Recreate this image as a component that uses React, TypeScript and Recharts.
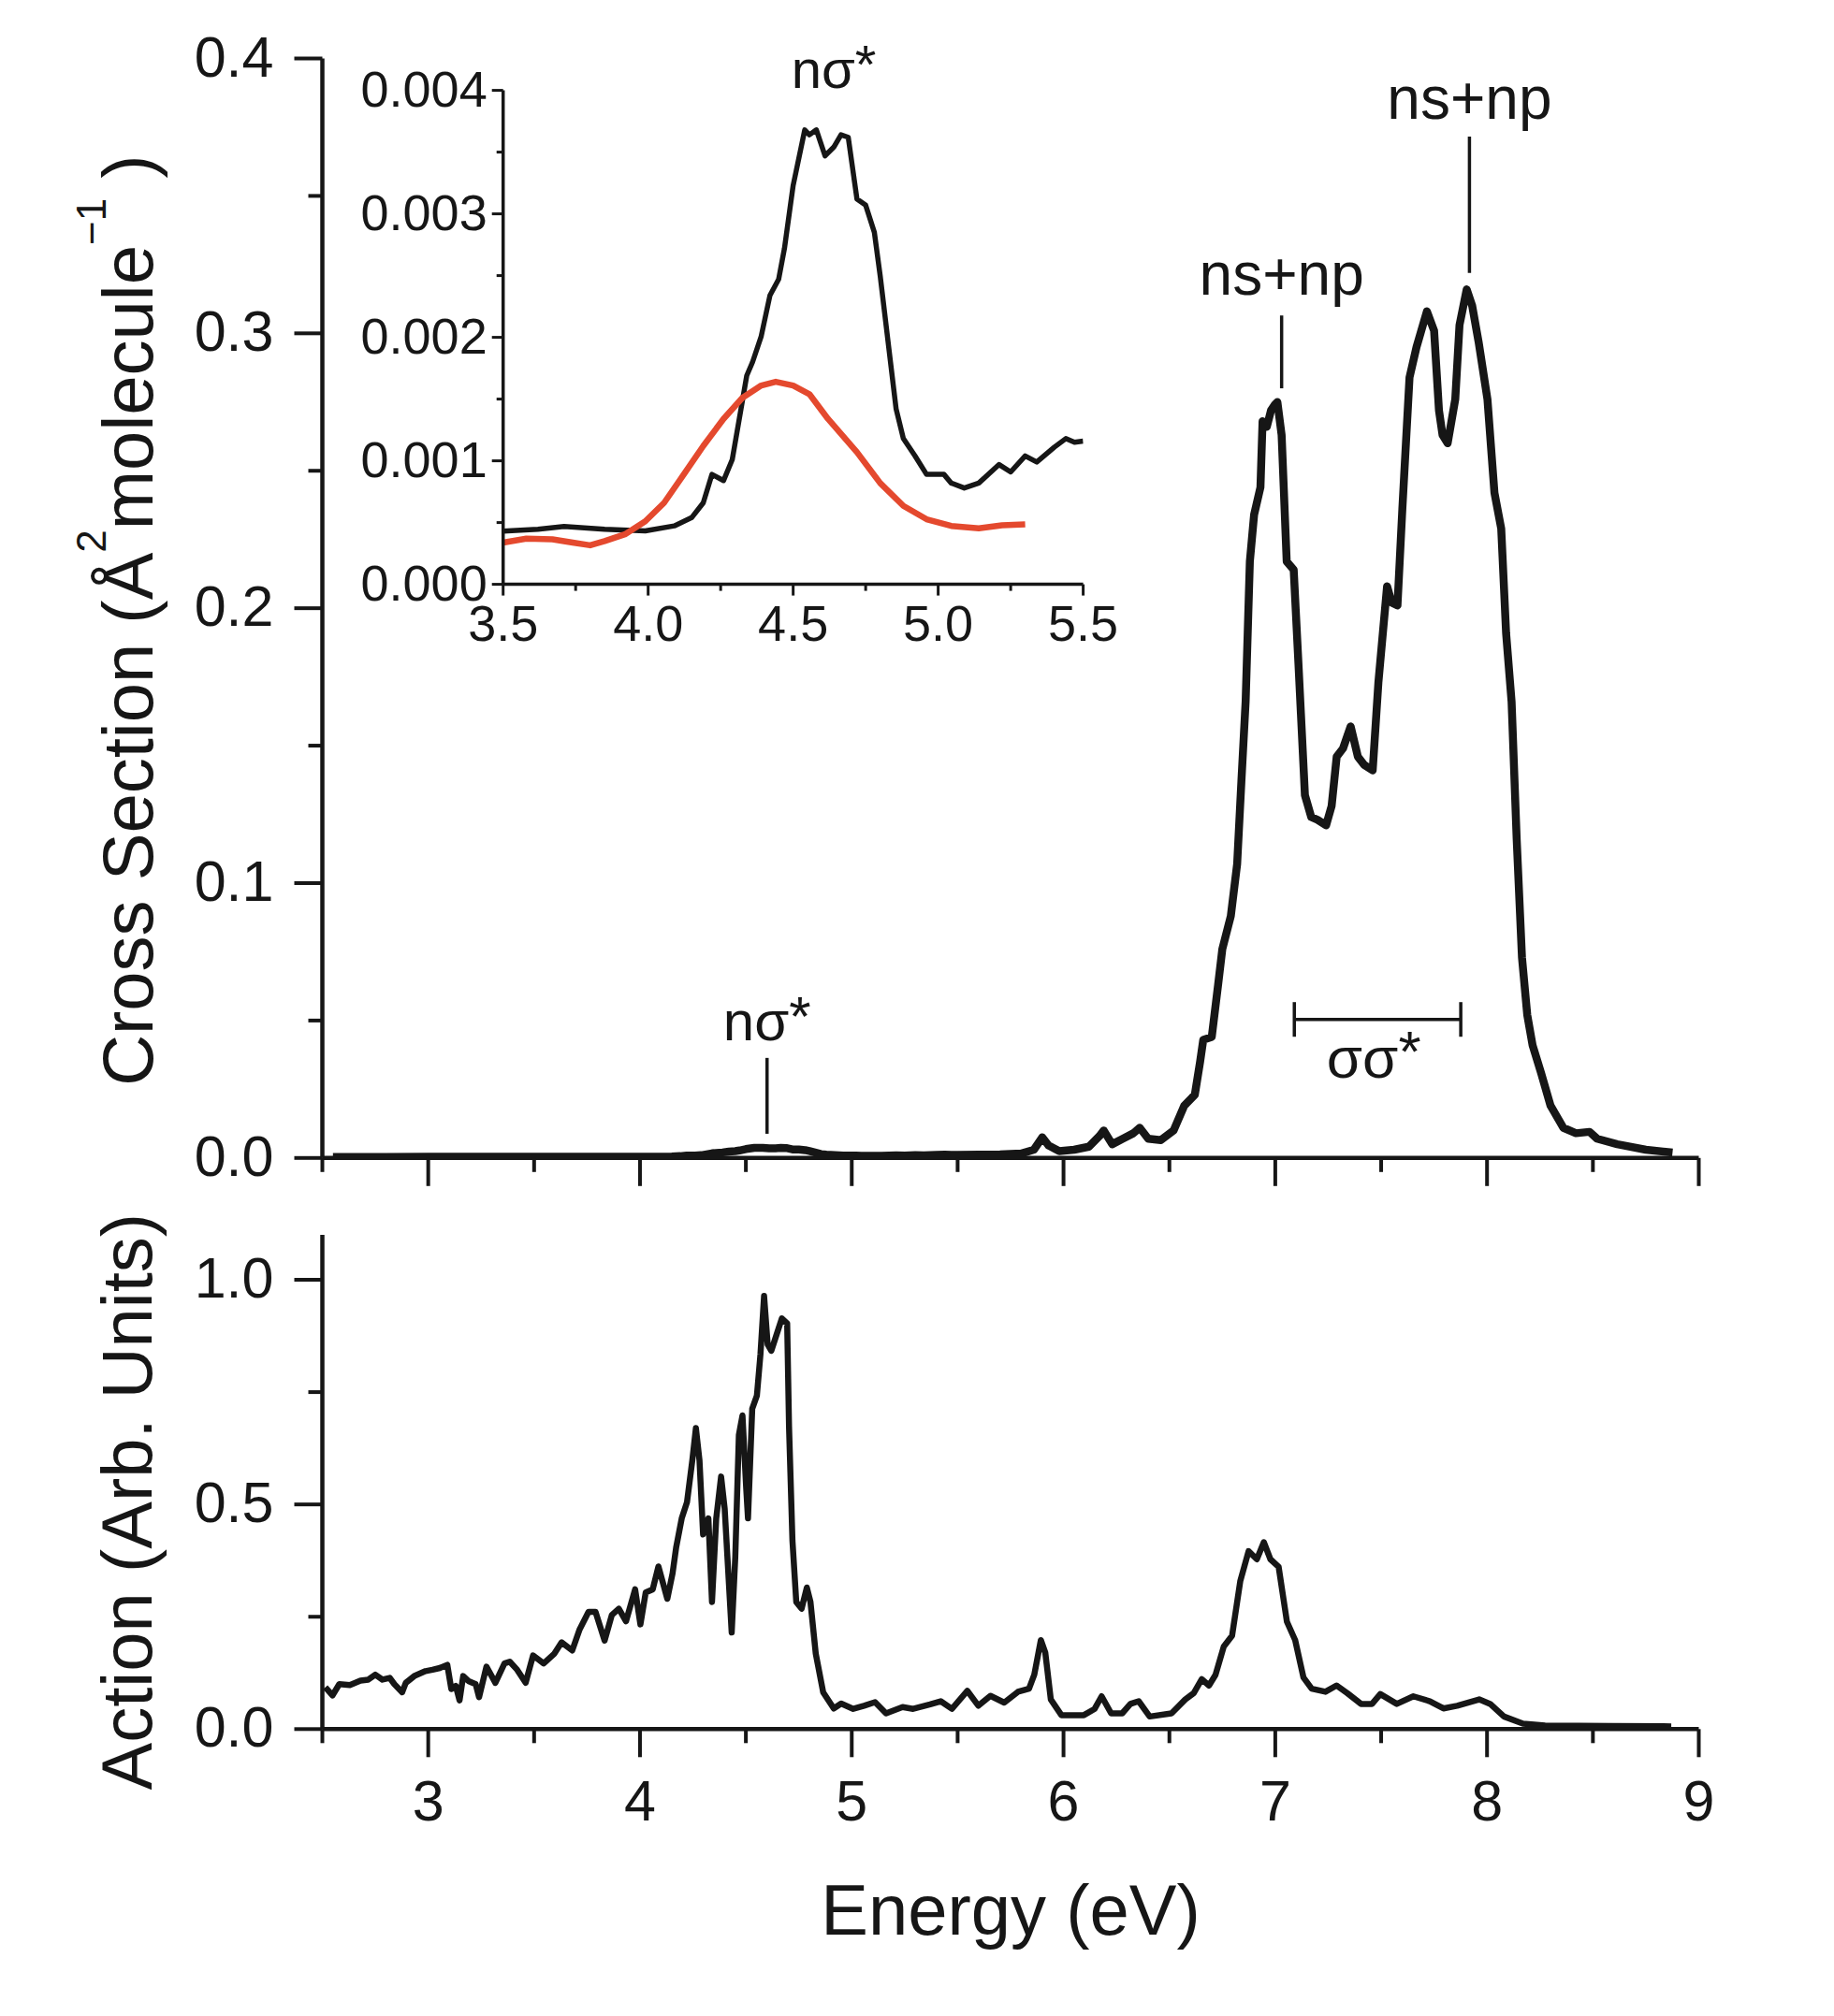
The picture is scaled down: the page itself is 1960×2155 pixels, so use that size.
import React from 'react';
import { LineChart, Line, XAxis, YAxis, ReferenceLine, ReferenceDot } from 'recharts';

const FONT = '"Liberation Sans", Arial, Helvetica, sans-serif';
const INK = '#161616';
const RED = '#e4492e';

// absorption cross section (Å² molecule⁻¹) against photon energy (eV)
const csEnergy = [
  2.55, 2.8, 3.0, 3.2, 3.5, 3.62, 3.71, 3.85, 3.99, 4.09, 4.15, 4.19, 4.22, 4.26, 4.29, 4.34, 4.36, 4.39,
  4.42, 4.45, 4.47, 4.5, 4.54, 4.556, 4.58, 4.61, 4.64, 4.665, 4.69, 4.72, 4.75, 4.78, 4.8, 4.83, 4.855,
  4.88, 4.92, 4.96, 5.02, 5.045, 5.09, 5.14, 5.21, 5.25, 5.3, 5.34, 5.4, 5.44, 5.47, 5.5, 5.6, 5.7, 5.8,
  5.86, 5.9, 5.93, 5.98, 6.05, 6.12, 6.17, 6.19, 6.23, 6.28, 6.33, 6.36, 6.4, 6.46, 6.52, 6.57, 6.62,
  6.645, 6.66, 6.7, 6.73, 6.75, 6.79, 6.82, 6.84, 6.86, 6.88, 6.9, 6.93, 6.94, 6.96, 6.98, 6.997, 7.01,
  7.03, 7.054, 7.087, 7.11, 7.14, 7.17, 7.2, 7.24, 7.266, 7.29, 7.32, 7.356, 7.39, 7.42, 7.46, 7.487,
  7.528, 7.55, 7.577, 7.6, 7.634, 7.667, 7.716, 7.75, 7.773, 7.79, 7.814, 7.85, 7.87, 7.904, 7.93, 7.96,
  8.002, 8.035, 8.067, 8.09, 8.116, 8.14, 8.165, 8.19, 8.215, 8.255, 8.3, 8.36, 8.42, 8.484, 8.52, 8.615,
  8.75, 8.876,
];
const csValue = [
  0.0004, 0.0004, 0.00042, 0.00042, 0.00043, 0.000446, 0.000468, 0.000446, 0.000432, 0.000473, 0.00054,
  0.00066, 0.00089, 0.00084, 0.00101, 0.00169, 0.0018, 0.00201, 0.00234, 0.00247, 0.00272, 0.00323,
  0.00368, 0.00364, 0.00368, 0.00347, 0.00354, 0.00364, 0.00362, 0.00312, 0.00307, 0.00285, 0.0025,
  0.00191, 0.00142, 0.00118, 0.00104, 0.00089, 0.00089, 0.00082, 0.00078, 0.00082, 0.00097, 0.00091,
  0.00104, 0.00099, 0.00111, 0.00118, 0.00115, 0.00116, 0.0012, 0.0013, 0.0016, 0.003, 0.0075, 0.0045,
  0.0025, 0.003, 0.0041, 0.008, 0.01, 0.005, 0.007, 0.009, 0.011, 0.007, 0.0065, 0.01, 0.019, 0.023,
  0.035, 0.043, 0.044, 0.063, 0.076, 0.088, 0.107, 0.137, 0.166, 0.217, 0.234, 0.244, 0.268, 0.266,
  0.272, 0.274, 0.275, 0.263, 0.217, 0.214, 0.179, 0.132, 0.124, 0.123, 0.121, 0.128, 0.146, 0.149,
  0.157, 0.146, 0.143, 0.141, 0.173, 0.208, 0.202, 0.201, 0.236, 0.284, 0.295, 0.308, 0.301, 0.272,
  0.263, 0.26, 0.276, 0.303, 0.316, 0.31, 0.297, 0.276, 0.242, 0.229, 0.191, 0.166, 0.116, 0.073, 0.052,
  0.041, 0.031, 0.019, 0.011, 0.009, 0.0095, 0.007, 0.005, 0.003, 0.002,
];

// action spectrum (arbitrary units)
const actionEnergy = [
  2.514, 2.548, 2.58, 2.63, 2.68, 2.717, 2.75, 2.784, 2.818, 2.84, 2.877, 2.894, 2.937, 2.987, 3.02,
  3.055, 3.09, 3.109, 3.13, 3.148, 3.165, 3.19, 3.224, 3.24, 3.275, 3.317, 3.36, 3.385, 3.42, 3.46,
  3.495, 3.545, 3.596, 3.63, 3.68, 3.715, 3.757, 3.79, 3.833, 3.867, 3.9, 3.934, 3.977, 4.002, 4.027,
  4.06, 4.087, 4.129, 4.154, 4.171, 4.197, 4.222, 4.247, 4.264, 4.281, 4.298, 4.323, 4.34, 4.36, 4.383,
  4.4, 4.433, 4.45, 4.467, 4.484, 4.501, 4.51, 4.53, 4.552, 4.569, 4.586, 4.603, 4.62, 4.645, 4.67,
  4.695, 4.704, 4.72, 4.738, 4.763, 4.788, 4.805, 4.83, 4.865, 4.915, 4.95, 5.007, 5.058, 5.11, 5.162,
  5.24, 5.29, 5.37, 5.42, 5.473, 5.546, 5.598, 5.655, 5.72, 5.785, 5.837, 5.862, 5.893, 5.914, 5.94,
  5.99, 6.096, 6.147, 6.18, 6.225, 6.277, 6.316, 6.355, 6.407, 6.51, 6.575, 6.615, 6.653, 6.687, 6.718,
  6.757, 6.796, 6.835, 6.874, 6.913, 6.946, 6.977, 7.016, 7.055, 7.094, 7.133, 7.172, 7.237, 7.289,
  7.34, 7.405, 7.457, 7.496, 7.574, 7.652, 7.73, 7.794, 7.859, 7.963, 8.015, 8.08, 8.17, 8.274, 8.585,
  8.87,
];
const actionValue = [
  0.093, 0.075, 0.1, 0.098, 0.108, 0.11, 0.121, 0.11, 0.114, 0.1, 0.082, 0.103, 0.119, 0.129, 0.132,
  0.136, 0.143, 0.089, 0.096, 0.064, 0.118, 0.107, 0.1, 0.071, 0.139, 0.103, 0.146, 0.15, 0.132, 0.103,
  0.164, 0.146, 0.168, 0.193, 0.175, 0.222, 0.261, 0.261, 0.197, 0.254, 0.268, 0.24, 0.311, 0.233, 0.304,
  0.311, 0.362, 0.29, 0.347, 0.405, 0.469, 0.505, 0.598, 0.67, 0.598, 0.433, 0.469, 0.283, 0.469, 0.562,
  0.49, 0.215, 0.383, 0.655, 0.698, 0.541, 0.469, 0.713, 0.742, 0.835, 0.964, 0.856, 0.842, 0.878, 0.914,
  0.903, 0.67, 0.419, 0.283, 0.268, 0.315, 0.283, 0.168, 0.082, 0.046, 0.057, 0.045, 0.052, 0.06, 0.035,
  0.049, 0.045, 0.055, 0.062, 0.045, 0.085, 0.052, 0.074, 0.059, 0.083, 0.09, 0.121, 0.198, 0.17, 0.066,
  0.031, 0.031, 0.045, 0.073, 0.035, 0.035, 0.056, 0.062, 0.028, 0.035, 0.066, 0.08, 0.111, 0.097, 0.121,
  0.184, 0.208, 0.33, 0.396, 0.378, 0.416, 0.378, 0.361, 0.239, 0.198, 0.115, 0.09, 0.083, 0.097,
  0.08, 0.056, 0.056, 0.078, 0.056, 0.073, 0.062, 0.046, 0.052, 0.066, 0.056, 0.028, 0.012, 0.008, 0.007,
  0.006,
];

// calculated nσ* band (inset, red)
const calcEnergy = [
  3.5, 3.58, 3.67, 3.74, 3.8, 3.85, 3.92, 3.99, 4.055, 4.12, 4.19, 4.26, 4.325, 4.39, 4.44, 4.5, 4.556,
  4.62, 4.72, 4.8, 4.88, 4.96, 5.045, 5.14, 5.22, 5.3,
];
const calcValue = [
  0.000338, 0.00037, 0.000365, 0.000338, 0.000316, 0.00035, 0.000405, 0.00051, 0.00066, 0.00088,
  0.00112, 0.00134, 0.00151, 0.00161, 0.00164, 0.00161, 0.00154, 0.00134, 0.00107, 0.00082, 0.000635,
  0.000527, 0.000473, 0.000454, 0.000478, 0.000486,
];

// ticks (major ones carry labels)
const energyTicks = [2.5, 3, 3.5, 4, 4.5, 5, 5.5, 6, 6.5, 7, 7.5, 8, 8.5, 9];
const energyMajor = [3, 4, 5, 6, 7, 8, 9];
const csTicks = [0, 0.05, 0.1, 0.15, 0.2, 0.25, 0.3, 0.35, 0.4];
const csMajor = [0, 0.1, 0.2, 0.3, 0.4];
const actionTicks = [0, 0.25, 0.5, 0.75, 1];
const actionMajor = [0, 0.5, 1];
const insetTicks = [3.5, 3.75, 4, 4.25, 4.5, 4.75, 5, 5.25, 5.5];
const insetMajor = [3.5, 4, 4.5, 5, 5.5];
const insetCsTicks = [0, 0.0005, 0.001, 0.0015, 0.002, 0.0025, 0.003, 0.0035, 0.004];
const insetCsMajor = [0, 0.001, 0.002, 0.003, 0.004];

const zip = (xs: number[], ys: number[]) => xs.map((e, i) => ({ e, v: ys[i] }));
const csData = zip(csEnergy, csValue);
const actionData = zip(actionEnergy, actionValue);
const calcData = zip(calcEnergy, calcValue);
const csInsetData = csData.filter((d) => d.e >= 3.5 && d.e <= 5.5);

interface TickStyle {
  major: number;
  minor: number;
  width: number;
  font?: number;
  gap?: number;
  shift?: number;
  digits?: number;
}

const isIn = (list: number[], v: number) => list.some((m) => Math.abs(m - v) < 1e-9);

// ticks drawn by hand so minor ones can be shorter
const bottomTick = (majors: number[], s: TickStyle) => (p: any) => {
  const v = Number(p.payload.value);
  const big = isIn(majors, v);
  return (
    <g>
      <line x1={p.x} x2={p.x} y1={p.y} y2={p.y + (big ? s.major : s.minor)} stroke={INK} strokeWidth={s.width} />
      {big && s.font ? (
        <text x={p.x} y={p.y + (s.gap ?? 0)} textAnchor="middle" fontFamily={FONT} fontSize={s.font} fill={INK}>
          {v.toFixed(s.digits ?? 0)}
        </text>
      ) : null}
    </g>
  );
};

const leftTick = (majors: number[], s: TickStyle) => (p: any) => {
  const v = Number(p.payload.value);
  const big = isIn(majors, v);
  return (
    <g>
      <line x1={p.x} x2={p.x - (big ? s.major : s.minor)} y1={p.y} y2={p.y} stroke={INK} strokeWidth={s.width} />
      {big && s.font ? (
        <text x={p.x - (s.gap ?? 0)} y={p.y + (s.shift ?? 0)} textAnchor="end" fontFamily={FONT} fontSize={s.font} fill={INK}>
          {v.toFixed(s.digits ?? 0)}
        </text>
      ) : null}
    </g>
  );
};

const csTitle = (p: any) => {
  const vb = p.viewBox;
  const cx = vb.x + 163;
  const cy = vb.y + vb.height / 2 + 13;
  return (
    <text x={cx} y={cy} transform={`rotate(-90, ${cx}, ${cy})`} textAnchor="middle" fontFamily={FONT} fontSize={76} fill={INK}>
      Cross Section (Å
      <tspan dy={-50} fontSize={44}>2</tspan>
      <tspan dy={50}>molecule</tspan>
      <tspan dy={-50} fontSize={44}>−1</tspan>
      <tspan dy={50}> )</tspan>
    </text>
  );
};

const actionTitle = (p: any) => {
  const vb = p.viewBox;
  const cx = vb.x + 162;
  const cy = vb.y + vb.height / 2 + 21;
  return (
    <text x={cx} y={cy} transform={`rotate(-90, ${cx}, ${cy})`} textAnchor="middle" fontFamily={FONT} fontSize={76} fill={INK}>
      Action (Arb. Units)
    </text>
  );
};

const energyTitle = (p: any) => {
  const vb = p.viewBox;
  return (
    <text x={vb.x + vb.width / 2} y={vb.y + 220} textAnchor="middle" fontFamily={FONT} fontSize={76} fill={INK}>
      Energy (eV)
    </text>
  );
};

// band label sitting above a marker line
const bandLabel = (name: string, star: boolean, lift: number, size = 60) => (p: any) => {
  const vb = p.viewBox;
  return (
    <text x={vb.x + (vb.width || 0) / 2} y={vb.y - lift} textAnchor="middle" fontFamily={FONT} fontSize={size} fill={INK}>
      {name}
      {star ? <tspan dy={-5}>*</tspan> : null}
    </text>
  );
};

const sigmaLabel = (p: any) => {
  const vb = p.viewBox;
  return (
    <text x={vb.x + vb.width / 2 - 4} y={vb.y + 62} textAnchor="middle" fontFamily={FONT} fontSize={62} fill={INK}>
      σσ<tspan dy={-7}>*</tspan>
    </text>
  );
};

const axisStroke = { stroke: INK, strokeWidth: 4.5 };
const insetAxisStroke = { stroke: INK, strokeWidth: 3.5 };
const mainTick = { major: 30, minor: 15, width: 4 };
const insetTick = { major: 12, minor: 7, width: 3 };

const App: React.FC = () => {
  return (
    <div style={{ position: 'absolute', left: 0, top: 0, width: 1960, height: 2155, background: '#fff', overflow: 'hidden' }}>
      {/* upper panel: cross section */}
      <div style={{ position: 'absolute', left: 0, top: 0 }}>
        <LineChart width={1960} height={1300} margin={{ top: 62.5, right: 144.5, bottom: 0, left: 0 }}>
          <XAxis
            type="number"
            dataKey="e"
            domain={[2.5, 9]}
            ticks={energyTicks}
            interval={0}
            allowDataOverflow
            height={62.2}
            tickSize={0}
            tickMargin={0}
            tickLine={false}
            axisLine={axisStroke}
            tick={bottomTick(energyMajor, mainTick)}
          />
          <YAxis
            type="number"
            domain={[0, 0.4]}
            ticks={csTicks}
            interval={0}
            allowDataOverflow
            width={344.5}
            tickSize={0}
            tickMargin={0}
            tickLine={false}
            axisLine={axisStroke}
            tick={leftTick(csMajor, { ...mainTick, font: 61, gap: 52, shift: 19, digits: 1 })}
            label={csTitle}
          />
          <Line data={csData} dataKey="v" type="linear" stroke={INK} strokeWidth={8.5} strokeLinejoin="round" dot={false} isAnimationActive={false} />
          <ReferenceLine segment={[{ x: 4.6, y: 0.0088 }, { x: 4.6, y: 0.0364 }]} stroke={INK} strokeWidth={3.5} label={bandLabel('nσ', true, 19)} />
          <ReferenceLine segment={[{ x: 7.03, y: 0.28 }, { x: 7.03, y: 0.3065 }]} stroke={INK} strokeWidth={3.5} label={bandLabel('ns+np', false, 22, 64)} />
          <ReferenceLine segment={[{ x: 7.917, y: 0.322 }, { x: 7.917, y: 0.3716 }]} stroke={INK} strokeWidth={3.5} label={bandLabel('ns+np', false, 19, 64)} />
          <ReferenceLine segment={[{ x: 7.09, y: 0.0504 }, { x: 7.876, y: 0.0504 }]} stroke={INK} strokeWidth={3.5} label={sigmaLabel} />
          <ReferenceLine segment={[{ x: 7.09, y: 0.0441 }, { x: 7.09, y: 0.0567 }]} stroke={INK} strokeWidth={3.5} />
          <ReferenceLine segment={[{ x: 7.876, y: 0.0441 }, { x: 7.876, y: 0.0567 }]} stroke={INK} strokeWidth={3.5} />
        </LineChart>
      </div>

      {/* inset: zoom on the weak nσ* band */}
      <div style={{ position: 'absolute', left: 0, top: 0 }}>
        <LineChart width={1300} height={720} margin={{ top: 96.6, right: 142.4, bottom: 0, left: 0 }}>
          <XAxis
            type="number"
            dataKey="e"
            domain={[3.5, 5.5]}
            ticks={insetTicks}
            interval={0}
            allowDataOverflow
            height={95.4}
            tickSize={0}
            tickMargin={0}
            tickLine={false}
            axisLine={insetAxisStroke}
            tick={bottomTick(insetMajor, { ...insetTick, font: 54, gap: 60, digits: 1 })}
          />
          <YAxis
            type="number"
            domain={[0, 0.004]}
            ticks={insetCsTicks}
            interval={0}
            allowDataOverflow
            width={537.7}
            tickSize={0}
            tickMargin={0}
            tickLine={false}
            axisLine={insetAxisStroke}
            tick={leftTick(insetCsMajor, { ...insetTick, font: 54, gap: 17, shift: 17, digits: 3 })}
          />
          <Line data={csInsetData} dataKey="v" type="linear" stroke={INK} strokeWidth={5.5} strokeLinejoin="round" dot={false} isAnimationActive={false} />
          <Line data={calcData} dataKey="v" type="linear" stroke={RED} strokeWidth={6.5} strokeLinejoin="round" dot={false} isAnimationActive={false} />
          <ReferenceDot x={4.64} y={0.004} r={0} fill="none" stroke="none" ifOverflow="visible" label={bandLabel('nσ', true, 3, 58)} />
        </LineChart>
      </div>

      {/* lower panel: action spectrum */}
      <div style={{ position: 'absolute', left: 0, top: 1260 }}>
        <LineChart width={1960} height={895} margin={{ top: 60, right: 144.5, bottom: 0, left: 0 }}>
          <XAxis
            type="number"
            dataKey="e"
            domain={[2.5, 9]}
            ticks={energyTicks}
            interval={0}
            allowDataOverflow
            height={306.7}
            tickSize={0}
            tickMargin={0}
            tickLine={false}
            axisLine={axisStroke}
            tick={bottomTick(energyMajor, { ...mainTick, font: 61, gap: 98, digits: 0 })}
            label={energyTitle}
          />
          <YAxis
            type="number"
            domain={[0, 1.1]}
            ticks={actionTicks}
            interval={0}
            allowDataOverflow
            width={344.5}
            tickSize={0}
            tickMargin={0}
            tickLine={false}
            axisLine={axisStroke}
            tick={leftTick(actionMajor, { ...mainTick, font: 61, gap: 52, shift: 19, digits: 1 })}
            label={actionTitle}
          />
          <Line data={actionData} dataKey="v" type="linear" stroke={INK} strokeWidth={6.5} strokeLinejoin="round" dot={false} isAnimationActive={false} />
        </LineChart>
      </div>
    </div>
  );
};

export default App;
